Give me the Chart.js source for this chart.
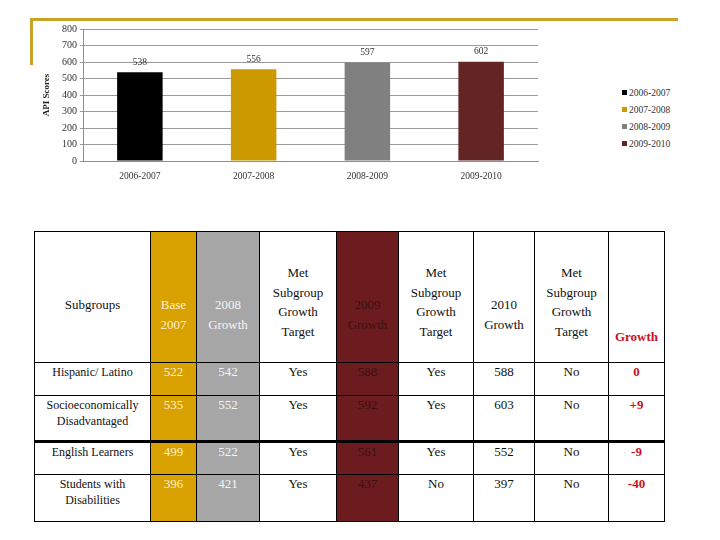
<!DOCTYPE html>
<html>
<head>
<meta charset="utf-8">
<script src="https://cdn.jsdelivr.net/npm/chart.js@4"></script>
<style>
  body { margin: 0; width: 720px; height: 540px; background: #fff; position: relative; overflow: hidden; font-family: "Liberation Serif", "Times New Roman", Tinos, "DejaVu Serif", serif; }
  #topRule { position: absolute; left: 30px; top: 18px; width: 648px; height: 3px; background: #C9A227; }
  #sideRule { position: absolute; left: 30px; top: 18px; width: 3px; height: 47px; background: #C9A227; }
  #chartBox { position: absolute; left: 38px; top: 20px; width: 505px; height: 166px; }
  #legend { position: absolute; left: 622px; top: 85px; font-size: 9.5px; color: #333; }
  #legend div { height: 17px; line-height: 17px; white-space: nowrap; }
  #legend span { display: inline-block; width: 5px; height: 5px; margin-right: 2px; vertical-align: 1px; }
  #scores { position: absolute; left: 34px; top: 231px; width: 630px; border-collapse: collapse; table-layout: fixed; font-size: 13px; color: #111; font-family: inherit; }
  #scores td { border: 1px solid #000; text-align: center; vertical-align: top; padding: 1px 0 0 0; line-height: 16px; }
  #scores tr.head td { line-height: 19.5px; padding-top: 63px; }
  #scores tr.head td.met { padding-top: 31px; }
  #scores tr.head td.chg { padding-top: 95px; }
  #scores tr.thick td { border-top: 3px solid #000; }
  .gold { background: #D9A100; color: #FBEFD0; }
  .gray { background: #A6A6A6; color: #F4F4F4; }
  .maroon { background: #6C1C1E; color: #3A1212; }
  .chg { color: #C8101E; font-weight: bold; }
</style>
</head>
<body>
<div id="chartBox"><canvas id="myChart"></canvas></div>
<div id="topRule"></div>
<div id="sideRule"></div>
<div id="legend"></div>
<table id="scores"></table>
<script>
var years = ['2006-2007', '2007-2008', '2008-2009', '2009-2010'];
var apiScores = [538, 556, 597, 602];
var barColors = ['#000000', '#CC9900', '#808080', '#632523'];
var yTicks = [0, 100, 200, 300, 400, 500, 600, 700, 800];

var subgroups = ['Hispanic/ Latino', 'Socioeconomically<br>Disadvantaged', 'English Learners', 'Students with<br>Disabilities'];
var base2007 = [522, 535, 499, 396];
var growth2008 = [542, 552, 522, 421];
var met2008 = ['Yes', 'Yes', 'Yes', 'Yes'];
var growth2009 = [588, 592, 561, 437];
var met2009 = ['Yes', 'Yes', 'Yes', 'No'];
var growth2010 = [588, 603, 552, 397];
var met2010 = ['No', 'No', 'No', 'No'];
var growthChange = ['0', '+9', '-9', '-40'];

var serif = '"Liberation Serif", "Times New Roman", Tinos, "DejaVu Serif", serif';

// numbers printed over each bar
var valueLabels = {
  id: 'valueLabels',
  afterDatasetsDraw: function(chart) {
    var c = chart.ctx;
    var meta = chart.getDatasetMeta(0);
    c.save();
    c.font = '9.5px ' + serif;
    c.fillStyle = '#333';
    c.textAlign = 'center';
    c.textBaseline = 'middle';
    meta.data.forEach(function(bar, i) {
      c.fillText(apiScores[i], bar.x, bar.y - 10);
    });
    c.restore();
  }
};

var ctx = document.getElementById('myChart').getContext('2d');

var myChart = new Chart(ctx, {
  type: 'bar',
  data: {
    labels: years,
    datasets: [{
      label: 'API Scores',
      data: apiScores,
      backgroundColor: barColors,
      borderWidth: 0,
      categoryPercentage: 1,
      barPercentage: 0.4
    }]
  },
  options: {
    responsive: true,
    maintainAspectRatio: false,
    animation: false,
    layout: { padding: { top: 7, right: 5, left: 0, bottom: 0 } },
    plugins: { legend: { display: false }, tooltip: { enabled: false } },
    scales: {
      x: {
        grid: { display: false, drawTicks: false },
        border: { color: '#8f8f8f' },
        ticks: { color: '#333', font: { family: serif, size: 9.5 }, padding: 10, maxRotation: 0 },
        afterFit: function(s) { s.height = 25; }
      },
      y: {
        min: 0,
        max: 800,
        afterBuildTicks: function(s) { s.ticks = yTicks.map(function(v) { return { value: v }; }); },
        grid: { color: '#9a9a9a', tickLength: 3 },
        border: { color: '#8f8f8f' },
        ticks: { color: '#333', font: { family: serif, size: 10 }, padding: 3 },
        title: { display: true, text: 'API Scores', color: '#222', font: { family: serif, size: 9, weight: 'bold' }, padding: 3 },
        afterFit: function(s) { s.width = 45; }
      }
    }
  },
  plugins: [valueLabels]
});

// legend
var legend = document.getElementById('legend');
years.forEach(function(y, i) {
  var d = document.createElement('div');
  d.innerHTML = '<span style="background:' + barColors[i] + '"></span>' + y;
  legend.appendChild(d);
});

// table
var colWidths = [116, 46, 63, 77, 62, 75, 61, 74, 56];
var html = '<colgroup>' + colWidths.map(function(w) { return '<col style="width:' + w + 'px">'; }).join('') + '</colgroup>';
html += '<tr class="head" style="height:131px">' +
  '<td>Subgroups</td>' +
  '<td class="gold">Base<br>2007</td>' +
  '<td class="gray">2008<br>Growth</td>' +
  '<td class="met">Met<br>Subgroup<br>Growth<br>Target</td>' +
  '<td class="maroon">2009<br>Growth</td>' +
  '<td class="met">Met<br>Subgroup<br>Growth<br>Target</td>' +
  '<td>2010<br>Growth</td>' +
  '<td class="met">Met<br>Subgroup<br>Growth<br>Target</td>' +
  '<td class="chg">Growth</td></tr>';
var rowHeights = [33, 46, 33, 47];
subgroups.forEach(function(g, i) {
  html += '<tr' + (i === 2 ? ' class="thick"' : '') + ' style="height:' + rowHeights[i] + 'px">' +
    '<td style="font-size:12px">' + g + '</td>' +
    '<td class="gold">' + base2007[i] + '</td>' +
    '<td class="gray">' + growth2008[i] + '</td>' +
    '<td>' + met2008[i] + '</td>' +
    '<td class="maroon">' + growth2009[i] + '</td>' +
    '<td>' + met2009[i] + '</td>' +
    '<td>' + growth2010[i] + '</td>' +
    '<td>' + met2010[i] + '</td>' +
    '<td class="chg">' + growthChange[i] + '</td></tr>';
});
document.getElementById('scores').innerHTML = html;
</script>
</body>
</html>
